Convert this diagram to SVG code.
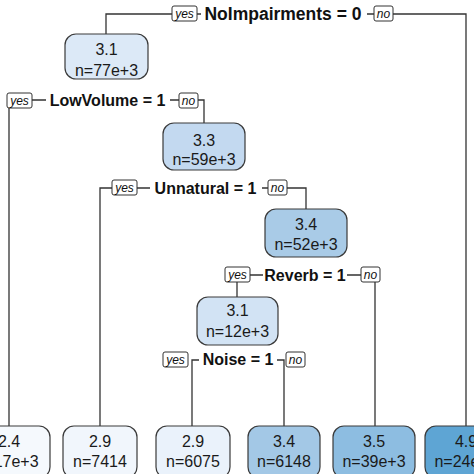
<svg xmlns="http://www.w3.org/2000/svg" width="474" height="474" viewBox="0 0 474 474">
<style>
.bg{fill:#ffffff}
.con path{fill:none;stroke:#333333;stroke-width:1.3}
.node rect{stroke:#3a3a3a;stroke-width:1.2}
.val{font-family:"Liberation Sans",Arial,sans-serif;font-size:16px;fill:#1a1a1a;text-anchor:middle}
.split{font-family:"Liberation Sans",Arial,sans-serif;font-size:16px;font-weight:bold;fill:#111111;text-anchor:middle}
.lb rect{fill:#ffffff;stroke:#333333;stroke-width:1}
.lb text{font-family:"Liberation Sans",Arial,sans-serif;font-size:12px;font-style:italic;fill:#111111;text-anchor:middle}
.wh{fill:#ffffff}
</style>
<rect class="bg" x="0" y="0" width="474" height="474"/>
<g id="connectors" class="con">
<path d="M106,34 V14 H466 V426"/>
<path d="M9,426 V100 H204 V123"/>
<path d="M100,426 V188 H306 V209"/>
<path d="M237,297 V275 H375 V426"/>
<path d="M192,426 V360 H284 V426"/>
</g>
<g id="split-labels">
<g id="split-root">
<rect class="wh" x="201" y="5" width="166" height="18"/>
<text class="split" x="283" y="20" style="font-size:17.5px">NoImpairments = 0</text>
<g class="lb"><rect x="172" y="6" width="25" height="15" rx="2"/><text x="184.5" y="18">yes</text></g>
<g class="lb"><rect x="374" y="6" width="19" height="15" rx="2"/><text x="383.5" y="18">no</text></g>
</g>
<g id="split-lowvolume">
<rect class="wh" x="46" y="91" width="124" height="18"/>
<text class="split" x="107.5" y="106">LowVolume = 1</text>
<g class="lb"><rect x="7" y="93" width="25" height="15" rx="2"/><text x="19.5" y="105">yes</text></g>
<g class="lb"><rect x="179" y="93" width="19" height="15" rx="2"/><text x="188.5" y="105">no</text></g>
</g>
<g id="split-unnatural">
<rect class="wh" x="150" y="179" width="112" height="18"/>
<text class="split" x="205.5" y="194">Unnatural = 1</text>
<g class="lb"><rect x="112" y="180" width="25" height="15" rx="2"/><text x="124.5" y="192">yes</text></g>
<g class="lb"><rect x="268" y="180" width="19" height="15" rx="2"/><text x="277.5" y="192">no</text></g>
</g>
<g id="split-reverb">
<rect class="wh" x="263" y="266" width="84" height="18"/>
<text class="split" x="305" y="281">Reverb = 1</text>
<g class="lb"><rect x="225" y="267" width="25" height="15" rx="2"/><text x="237.5" y="279">yes</text></g>
<g class="lb"><rect x="361" y="267" width="19" height="15" rx="2"/><text x="370.5" y="279">no</text></g>
</g>
<g id="split-noise">
<rect class="wh" x="199" y="350" width="78" height="18"/>
<text class="split" x="238" y="365">Noise = 1</text>
<g class="lb"><rect x="163" y="352" width="25" height="15" rx="2"/><text x="175.5" y="364">yes</text></g>
<g class="lb"><rect x="286" y="352" width="19" height="15" rx="2"/><text x="295.5" y="364">no</text></g>
</g>
</g>
<g id="node-root" class="node">
<rect x="65" y="34" width="83" height="45" rx="11" fill="#dce9f7"/>
<text class="val" x="106.5" y="55">3.1</text>
<text class="val" x="106.5" y="76">n=77e+3</text>
</g>
<g id="node-3-3" class="node">
<rect x="163" y="123" width="82" height="47" rx="11" fill="#c3d9f0"/>
<text class="val" x="204" y="146">3.3</text>
<text class="val" x="204" y="165">n=59e+3</text>
</g>
<g id="node-3-4" class="node">
<rect x="265" y="209" width="82" height="48" rx="11" fill="#a9cbe7"/>
<text class="val" x="306" y="230">3.4</text>
<text class="val" x="306" y="250">n=52e+3</text>
</g>
<g id="node-3-1b" class="node">
<rect x="197" y="297" width="81" height="48" rx="11" fill="#d2e3f4"/>
<text class="val" x="237.5" y="316">3.1</text>
<text class="val" x="237.5" y="337">n=12e+3</text>
</g>
<g id="leaf-1" class="node">
<rect x="-32" y="426" width="82" height="52" rx="11" fill="#f5f9fd"/>
<text class="val" x="9" y="447">2.4</text>
<text class="val" x="7" y="467">n=17e+3</text>
</g>
<g id="leaf-2" class="node">
<rect x="63" y="426" width="74" height="52" rx="11" fill="#f1f6fc"/>
<text class="val" x="100" y="447">2.9</text>
<text class="val" x="100" y="467">n=7414</text>
</g>
<g id="leaf-3" class="node">
<rect x="156" y="426" width="74" height="52" rx="11" fill="#eaf2fb"/>
<text class="val" x="193" y="447">2.9</text>
<text class="val" x="193" y="467">n=6075</text>
</g>
<g id="leaf-4" class="node">
<rect x="248" y="426" width="72" height="52" rx="11" fill="#a3c8e6"/>
<text class="val" x="284" y="447">3.4</text>
<text class="val" x="284" y="467">n=6148</text>
</g>
<g id="leaf-5" class="node">
<rect x="333" y="426" width="82" height="52" rx="11" fill="#8dbde1"/>
<text class="val" x="374" y="447">3.5</text>
<text class="val" x="374" y="467">n=39e+3</text>
</g>
<g id="leaf-6" class="node">
<rect x="425" y="426" width="82" height="52" rx="11" fill="#5ea5d4"/>
<text class="val" x="466" y="447">4.9</text>
<text class="val" x="466" y="467">n=24e+3</text>
</g>
</svg>
